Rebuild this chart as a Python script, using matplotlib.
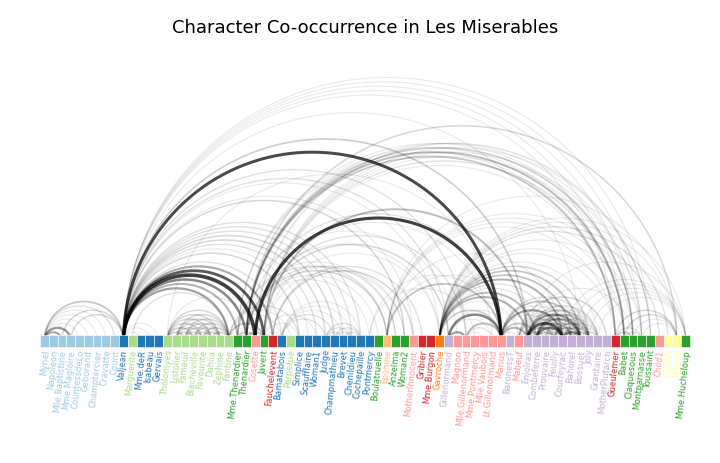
import matplotlib

matplotlib.use("Agg")

import matplotlib.pyplot as plt
import numpy as np
from matplotlib.patches import Rectangle

NAMES = [
    "Myriel", "Napoleon", "Mlle.Baptistine", "Mme.Magloire", "CountessdeLo", "Geborand",
    "Champtercier", "Cravatte", "Count", "Valjean", "Marguerite", "Mme.deR", "Isabeau",
    "Gervais", "Tholomyes", "Listolier", "Fameuil", "Blacheville", "Favourite", "Dahlia",
    "Zephine", "Fantine", "Mme.Thenardier", "Thenardier", "Cosette", "Javert", "Fauchelevent",
    "Bamatabois", "Perpetue", "Simplice", "Scaufflaire", "Woman1", "Judge", "Champmathieu",
    "Brevet", "Chenildieu", "Cochepaille", "Pontmercy", "Boulatruelle", "Eponine", "Anzelma",
    "Woman2", "MotherInnocent", "Gribier", "Mme.Burgon", "Gavroche", "Gillenormand", "Magnon",
    "Mlle.Gillenormand", "Mme.Pontmercy", "Mlle.Vaubois", "Lt.Gillenormand", "Marius",
    "BaronessT", "Mabeuf", "Enjolras", "Combeferre", "Prouvaire", "Feuilly", "Courfeyrac",
    "Bahorel", "Bossuet", "Joly", "Grantaire", "MotherPlutarch", "Gueulemer", "Babet",
    "Claquesous", "Montparnasse", "Toussaint", "Child1", "Child2", "Brujon", "Mme.Hucheloup",
]
GROUPS = [1] * 9 + [2, 3, 2, 2, 2] + [3] * 8 + [4, 4, 5, 4, 0, 2, 3] + [2] * 9 + [4, 6, 4, 4, 5, 0, 0, 7, 8] + \
    [5] * 6 + [8, 5] + [8] * 10 + [9, 4, 4, 4, 4, 5, 10, 10, 4, 8]
GROUP_COLORS = {0: "#d62728", 1: "#9ecae1", 2: "#1f77b4", 3: "#a8dc8a", 4: "#2ca02c", 5: "#ff9896",
                6: "#ffbb78", 7: "#ff7f0e", 8: "#c5b0d5", 9: "#d62728", 10: "#ffff99"}

# links as "source target value" using the names above
LINKS = """
Napoleon Myriel 1; Mlle.Baptistine Myriel 8; Mme.Magloire Myriel 10; Mme.Magloire Mlle.Baptistine 6
CountessdeLo Myriel 1; Geborand Myriel 1; Champtercier Myriel 1; Cravatte Myriel 1; Count Myriel 2
Valjean Mme.Magloire 3; Valjean Mlle.Baptistine 3; Valjean Myriel 5; Marguerite Valjean 1
Mme.deR Valjean 1; Isabeau Valjean 1; Gervais Valjean 1
Listolier Tholomyes 4; Fameuil Tholomyes 4; Fameuil Listolier 4; Blacheville Tholomyes 4
Blacheville Listolier 4; Blacheville Fameuil 4; Favourite Tholomyes 3; Favourite Listolier 3
Favourite Fameuil 3; Favourite Blacheville 4; Dahlia Tholomyes 3; Dahlia Listolier 3; Dahlia Fameuil 3
Dahlia Blacheville 3; Dahlia Favourite 5; Zephine Tholomyes 3; Zephine Listolier 3; Zephine Fameuil 3
Zephine Blacheville 3; Zephine Favourite 4; Zephine Dahlia 4; Fantine Tholomyes 3; Fantine Listolier 3
Fantine Fameuil 3; Fantine Blacheville 3; Fantine Favourite 4; Fantine Dahlia 4; Fantine Zephine 4
Fantine Marguerite 2; Fantine Valjean 9; Mme.Thenardier Fantine 2; Mme.Thenardier Valjean 7
Thenardier Mme.Thenardier 13; Thenardier Fantine 1; Thenardier Valjean 12; Cosette Mme.Thenardier 4
Cosette Valjean 31; Cosette Tholomyes 1; Cosette Thenardier 1; Javert Valjean 17; Javert Fantine 5
Javert Thenardier 5; Javert Mme.Thenardier 1; Javert Cosette 1; Fauchelevent Valjean 8
Fauchelevent Javert 1; Bamatabois Fantine 1; Bamatabois Javert 1; Bamatabois Valjean 2
Perpetue Fantine 1; Simplice Perpetue 2; Simplice Valjean 3; Simplice Fantine 2; Simplice Javert 1
Scaufflaire Valjean 1; Woman1 Valjean 2; Woman1 Javert 1; Judge Valjean 3; Judge Bamatabois 2
Champmathieu Valjean 3; Champmathieu Judge 3; Champmathieu Bamatabois 2; Brevet Judge 2
Brevet Champmathieu 2; Brevet Valjean 2; Brevet Bamatabois 1; Chenildieu Judge 2
Chenildieu Champmathieu 2; Chenildieu Brevet 2; Chenildieu Valjean 2; Chenildieu Bamatabois 1
Cochepaille Judge 2; Cochepaille Champmathieu 2; Cochepaille Brevet 2; Cochepaille Chenildieu 2
Cochepaille Valjean 2; Cochepaille Bamatabois 1; Pontmercy Thenardier 1; Boulatruelle Thenardier 1
Eponine Mme.Thenardier 2; Eponine Thenardier 3; Anzelma Eponine 2; Anzelma Thenardier 2
Anzelma Mme.Thenardier 1; Woman2 Valjean 3; Woman2 Cosette 1; Woman2 Javert 1
MotherInnocent Fauchelevent 3; MotherInnocent Valjean 1; Gribier Fauchelevent 2
Gavroche Mme.Burgon 2; Gavroche Thenardier 1; Gavroche Javert 1; Gavroche Valjean 1
Gillenormand Cosette 3; Gillenormand Valjean 2; Magnon Gillenormand 1; Magnon Mme.Thenardier 1
Mlle.Gillenormand Gillenormand 9; Mlle.Gillenormand Cosette 2; Mlle.Gillenormand Valjean 2
Mme.Pontmercy Mlle.Gillenormand 1; Mme.Pontmercy Pontmercy 1; Mlle.Vaubois Mlle.Gillenormand 1
Lt.Gillenormand Mlle.Gillenormand 2; Lt.Gillenormand Gillenormand 1; Lt.Gillenormand Cosette 1
Marius Mlle.Gillenormand 6; Marius Gillenormand 12; Marius Pontmercy 1; Marius Lt.Gillenormand 1
Marius Cosette 21; Marius Valjean 19; Marius Tholomyes 1; Marius Thenardier 2; Marius Eponine 5
Marius Gavroche 4; BaronessT Gillenormand 1; BaronessT Marius 1; Mabeuf Marius 1; Mabeuf Eponine 1
Mabeuf Gavroche 1; Enjolras Marius 7; Enjolras Gavroche 7; Enjolras Javert 6; Enjolras Mabeuf 1
Enjolras Valjean 4; Combeferre Enjolras 15; Combeferre Marius 5; Combeferre Gavroche 6
Combeferre Mabeuf 2; Prouvaire Gavroche 1; Prouvaire Enjolras 4; Prouvaire Combeferre 2
Feuilly Gavroche 2; Feuilly Enjolras 6; Feuilly Prouvaire 2; Feuilly Combeferre 5; Feuilly Mabeuf 1
Feuilly Marius 1; Courfeyrac Marius 9; Courfeyrac Enjolras 17; Courfeyrac Combeferre 13
Courfeyrac Gavroche 7; Courfeyrac Mabeuf 2; Courfeyrac Eponine 1; Courfeyrac Feuilly 6
Courfeyrac Prouvaire 3; Bahorel Combeferre 5; Bahorel Gavroche 5; Bahorel Courfeyrac 6
Bahorel Mabeuf 2; Bahorel Enjolras 4; Bahorel Feuilly 3; Bahorel Prouvaire 2; Bahorel Marius 1
Bossuet Marius 5; Bossuet Courfeyrac 12; Bossuet Gavroche 5; Bossuet Bahorel 4; Bossuet Enjolras 10
Bossuet Feuilly 6; Bossuet Prouvaire 2; Bossuet Combeferre 9; Bossuet Mabeuf 1; Bossuet Valjean 1
Joly Bahorel 5; Joly Bossuet 7; Joly Gavroche 3; Joly Courfeyrac 5; Joly Enjolras 5; Joly Feuilly 5
Joly Prouvaire 2; Joly Combeferre 5; Joly Mabeuf 1; Joly Marius 2; Grantaire Bossuet 3
Grantaire Enjolras 3; Grantaire Combeferre 1; Grantaire Courfeyrac 2; Grantaire Joly 2
Grantaire Gavroche 1; Grantaire Bahorel 1; Grantaire Feuilly 1; Grantaire Prouvaire 1
MotherPlutarch Mabeuf 3; Gueulemer Thenardier 5; Gueulemer Valjean 1; Gueulemer Mme.Thenardier 1
Gueulemer Javert 1; Gueulemer Gavroche 1; Gueulemer Eponine 1; Babet Thenardier 6; Babet Gueulemer 6
Babet Valjean 1; Babet Mme.Thenardier 1; Babet Javert 2; Babet Gavroche 1; Babet Eponine 1
Claquesous Thenardier 4; Claquesous Babet 4; Claquesous Gueulemer 4; Claquesous Valjean 1
Claquesous Mme.Thenardier 1; Claquesous Javert 1; Claquesous Eponine 1; Claquesous Enjolras 1
Montparnasse Javert 1; Montparnasse Babet 2; Montparnasse Gueulemer 2; Montparnasse Claquesous 2
Montparnasse Valjean 1; Montparnasse Gavroche 1; Montparnasse Eponine 1; Montparnasse Thenardier 1
Toussaint Cosette 2; Toussaint Javert 1; Toussaint Valjean 1; Child1 Gavroche 2; Child2 Gavroche 2
Child2 Child1 3; Brujon Babet 3; Brujon Gueulemer 3; Brujon Thenardier 3; Brujon Gavroche 1
Brujon Eponine 1; Brujon Claquesous 1; Brujon Montparnasse 1; Mme.Hucheloup Bossuet 1
Mme.Hucheloup Joly 1; Mme.Hucheloup Grantaire 1; Mme.Hucheloup Bahorel 1; Mme.Hucheloup Courfeyrac 1
Mme.Hucheloup Gavroche 1; Mme.Hucheloup Enjolras 1
"""

links = []
for item in LINKS.replace("\n", ";").split(";"):
    parts = item.split()
    if len(parts) == 3:
        links.append((parts[0], parts[1], int(parts[2])))

W, H = 720, 463
fig = plt.figure(figsize=(W / 100, H / 100), dpi=100)
ax = fig.add_axes([0, 0, 1, 1])
ax.set_xlim(0, W)
ax.set_ylim(H, 0)
ax.axis("off")

x0, x1, base = 40, 690, 341
step = (x1 - x0) / len(NAMES)
pos = {n: x0 + (i + 0.5) * step for i, n in enumerate(NAMES)}

t = np.linspace(0, np.pi, 150)
for s, d, v in sorted(links, key=lambda l: l[2]):
    a, b = pos[s], pos[d]
    c, r = (a + b) / 2, abs(a - b) / 2
    ax.plot(c + r * np.cos(t), base - r * np.sin(t), color="black",
            alpha=min(0.05 + v * 0.035, 0.75), lw=0.4 + np.sqrt(v) * 0.4, zorder=1)

for n, g in zip(NAMES, GROUPS):
    col = GROUP_COLORS[g]
    ax.add_patch(Rectangle((pos[n] - step / 2, base - 6), step, 12, facecolor=col,
                           edgecolor="white", lw=0.4, zorder=3))
    ax.text(pos[n] + 1.5, base + 9, n, rotation=84, rotation_mode="anchor", ha="right",
            va="center", fontsize=6, color=col, zorder=3)

ax.text(365, 28, "Character Co-occurrence in Les Miserables", ha="center", va="center",
        fontsize=13, color="black")

fig.savefig("out.png", dpi=100, facecolor="white")
